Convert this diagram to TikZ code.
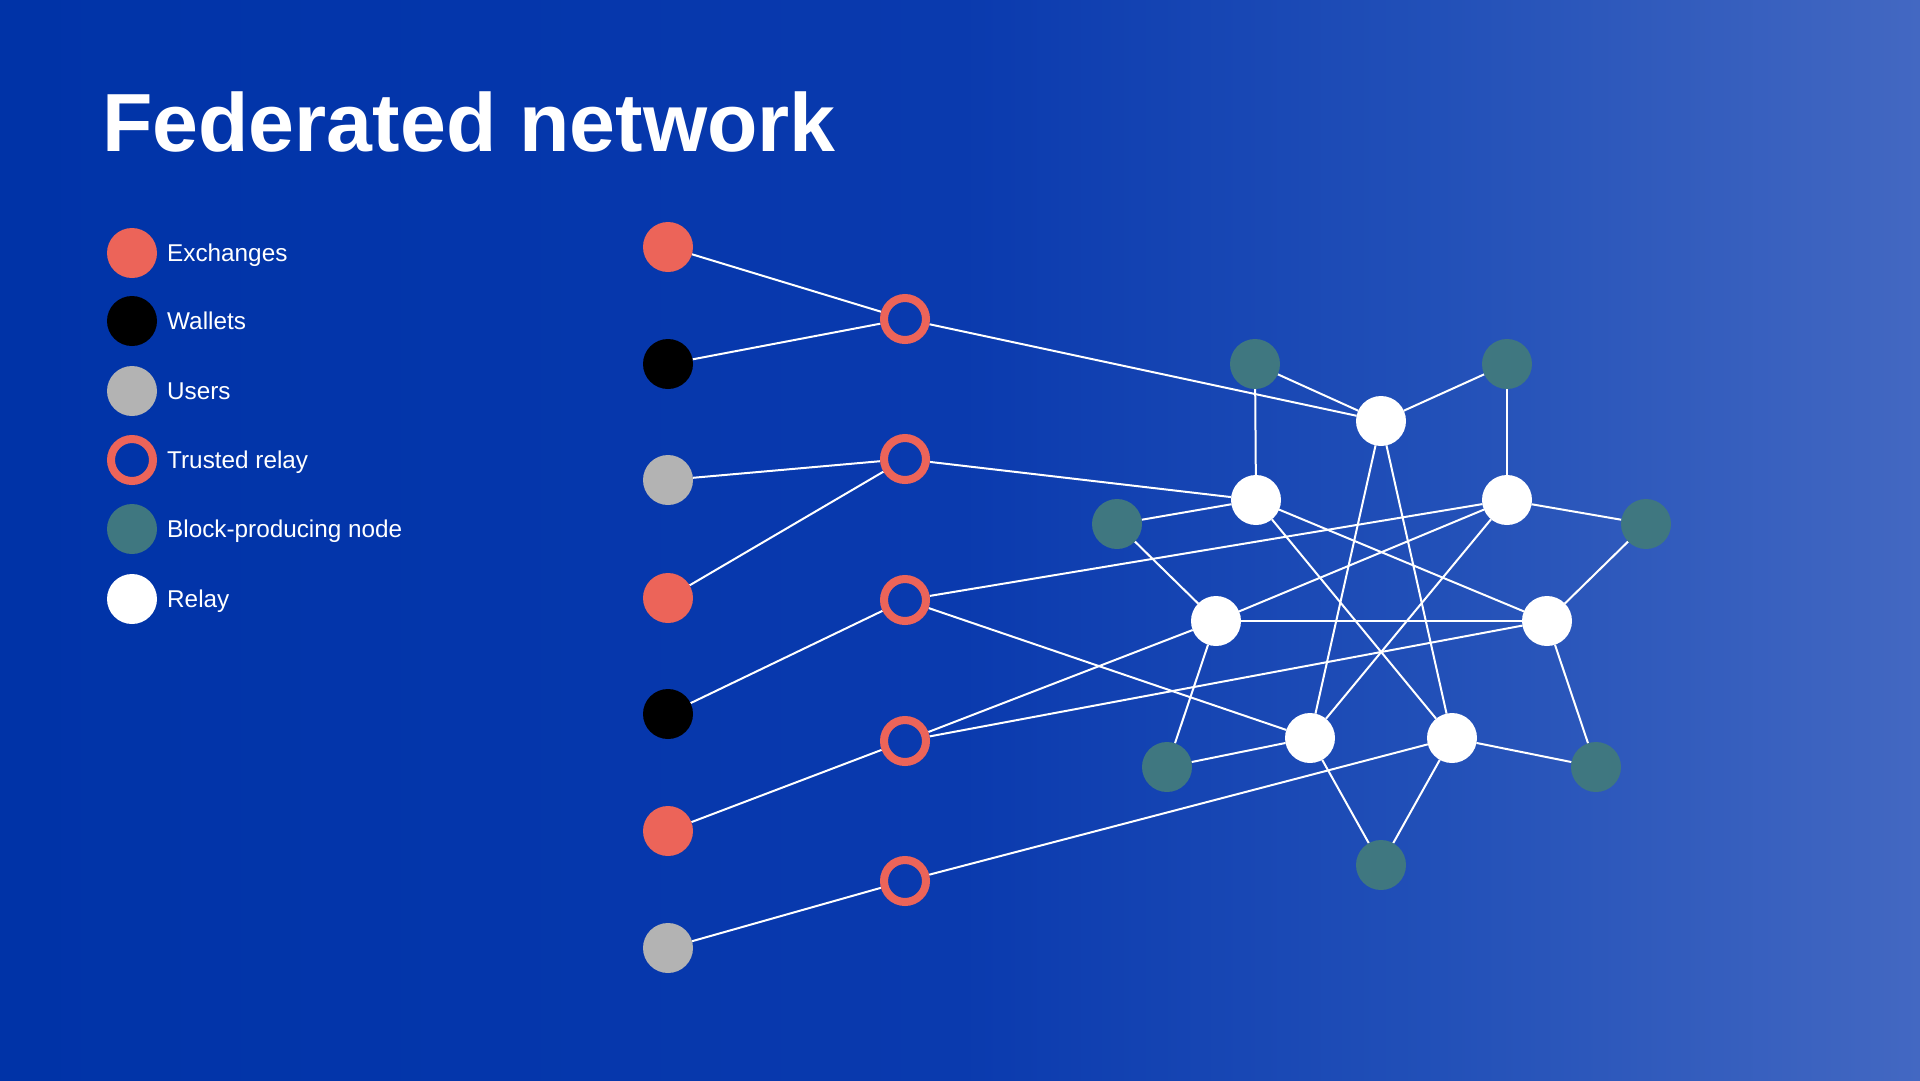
\documentclass[tikz,border=0pt]{standalone}
\usepackage{fontspec}
\setmainfont{Liberation Sans}
\usetikzlibrary{shadings}
\definecolor{bgA}{HTML}{0033A7}
\definecolor{bgB}{HTML}{0436AB}
\definecolor{bgC}{HTML}{0A3AAE}
\definecolor{bgD}{HTML}{2250B8}
\definecolor{bgE}{HTML}{4368C2}
\definecolor{exred}{HTML}{EC6459}
\definecolor{usergray}{HTML}{B3B3B3}
\definecolor{bpteal}{HTML}{3F7780}
\pgfdeclarehorizontalshading{bgshade}{100bp}{color(0bp)=(bgA); color(25bp)=(bgA); color(37.5bp)=(bgB); color(50bp)=(bgC); color(62.5bp)=(bgD); color(75bp)=(bgE); color(100bp)=(bgE)}
\pgfdeclarelayer{bglayer}
\pgfdeclarelayer{edgelayer}
\pgfsetlayers{bglayer,edgelayer,main}
\tikzset{
  dot/.style={circle, minimum size=50pt, inner sep=0pt, outer sep=0pt, draw=none},
  exch/.style={dot, fill=exred},
  wallet/.style={dot, fill=black},
  user/.style={dot, fill=usergray},
  bpnode/.style={dot, fill=bpteal},
  relay/.style={dot, fill=white},
  trusted/.style={circle, minimum size=42pt, inner sep=0pt, draw=exred, line width=8pt},
  link/.style={draw=white, line width=2pt},
  legtext/.style={anchor=base west, inner sep=0pt, text=white, font=\fontsize{24.3}{28}\selectfont},
  titletext/.style={anchor=base west, inner sep=0pt, text=white, font=\fontsize{82.5}{92}\selectfont\bfseries}
}
\begin{document}
\begin{tikzpicture}[x=1pt, y=-1pt]
\begin{pgfonlayer}{bglayer}
  \shade[shading=bgshade] (0,0) rectangle (1920,1080);
\end{pgfonlayer}
\useasboundingbox (0,0) rectangle (1920,1080);

% title
\node[titletext] (title) at (102,151) {Federated network};

% legend
\node[exch]    (lg1) at (132,253) {};
\node[wallet]  (lg2) at (132,321) {};
\node[user]    (lg3) at (132,391) {};
\node[trusted] (lg4) at (132,460) {};
\node[bpnode]  (lg5) at (132,529) {};
\node[relay]   (lg6) at (132,599) {};
\node[legtext] (lt1) at (167,261) {Exchanges};
\node[legtext] (lt2) at (167,329) {Wallets};
\node[legtext] (lt3) at (167,399) {Users};
\node[legtext] (lt4) at (167,468) {Trusted relay};
\node[legtext] (lt5) at (167,537) {Block-producing node};
\node[legtext] (lt6) at (167,607) {Relay};

% clients
\node[exch]   (e1) at (668,247) {};
\node[wallet] (w1) at (668,364) {};
\node[user]   (u1) at (668,480) {};
\node[exch]   (e2) at (668,598) {};
\node[wallet] (w2) at (668,714) {};
\node[exch]   (e3) at (668,831) {};
\node[user]   (u2) at (668,948) {};

% trusted relays
\node[trusted] (t1) at (905,319) {};
\node[trusted] (t2) at (905,459) {};
\node[trusted] (t3) at (905,600) {};
\node[trusted] (t4) at (905,741) {};
\node[trusted] (t5) at (905,881) {};

% relays
\node[relay] (rt)  at (1381,421) {};
\node[relay] (rul) at (1256,500) {};
\node[relay] (rur) at (1507,500) {};
\node[relay] (rml) at (1216,621) {};
\node[relay] (rmr) at (1547,621) {};
\node[relay] (rbl) at (1310,738) {};
\node[relay] (rbr) at (1452,738) {};

% block-producing nodes
\node[bpnode] (btl) at (1255,364) {};
\node[bpnode] (btr) at (1507,364) {};
\node[bpnode] (bl)  at (1117,524) {};
\node[bpnode] (br)  at (1646,524) {};
\node[bpnode] (bbl) at (1167,767) {};
\node[bpnode] (bbr) at (1596,767) {};
\node[bpnode] (bb)  at (1381,865) {};

\begin{pgfonlayer}{edgelayer}
  \path[link] (e1) -- (t1);
  \path[link] (w1) -- (t1);
  \path[link] (u1) -- (t2);
  \path[link] (e2) -- (t2);
  \path[link] (w2) -- (t3);
  \path[link] (e3) -- (t4);
  \path[link] (u2) -- (t5);
  \path[link] (t1) -- (rt);
  \path[link] (t2) -- (rul);
  \path[link] (t3) -- (rur);
  \path[link] (t3) -- (rbl);
  \path[link] (t4) -- (rml);
  \path[link] (t4) -- (rmr);
  \path[link] (t5) -- (rbr);
  \path[link] (btl) -- (rt);
  \path[link] (btr) -- (rt);
  \path[link] (btl) -- (rul);
  \path[link] (btr) -- (rur);
  \path[link] (bl) -- (rul);
  \path[link] (bl) -- (rml);
  \path[link] (br) -- (rur);
  \path[link] (br) -- (rmr);
  \path[link] (rml) -- (rmr);
  \path[link] (rml) -- (rur);
  \path[link] (rul) -- (rmr);
  \path[link] (rul) -- (rbr);
  \path[link] (rur) -- (rbl);
  \path[link] (rt) -- (rbl);
  \path[link] (rt) -- (rbr);
  \path[link] (rml) -- (bbl);
  \path[link] (rbl) -- (bbl);
  \path[link] (rbl) -- (bb);
  \path[link] (rbr) -- (bb);
  \path[link] (rbr) -- (bbr);
  \path[link] (rmr) -- (bbr);
\end{pgfonlayer}
\end{tikzpicture}
\end{document}
